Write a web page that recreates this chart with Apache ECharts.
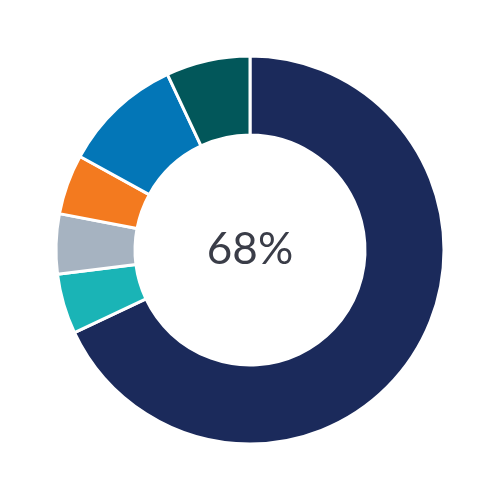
<!DOCTYPE html>
<html><head><meta charset="utf-8">
<script src="https://cdn.jsdelivr.net/npm/echarts@6/dist/echarts.min.js"></script>
<style>html,body{margin:0;padding:0;background:#fff}#c{width:500px;height:500px}</style>
</head><body><div id="c"></div>
<script>
const categories = ["A","B","C","D","E","F"];
const values = [68,5,5,5,10,7];
const colors = ["#1b2a5b","#1ab4b6","#a6b3c1","#f37a1f","#0376b7","#02575a"];
const centerLabel = "68%";
const chart = echarts.init(document.getElementById('c'));
chart.setOption({
  animation:false,
  title:{text:centerLabel,left:'center',top:'center',textStyle:{fontFamily:'Lato',fontWeight:'normal',fontSize:44,color:'#3a3d48'}},
  series:[{type:'pie',radius:[115,194],center:['50%','50%'],startAngle:90,clockwise:true,
    label:{show:false},labelLine:{show:false},
    itemStyle:{borderColor:'#fff',borderWidth:3},
    data:categories.map((c,i)=>({name:c,value:values[i],itemStyle:{color:colors[i]}}))}]
});
</script></body></html>
